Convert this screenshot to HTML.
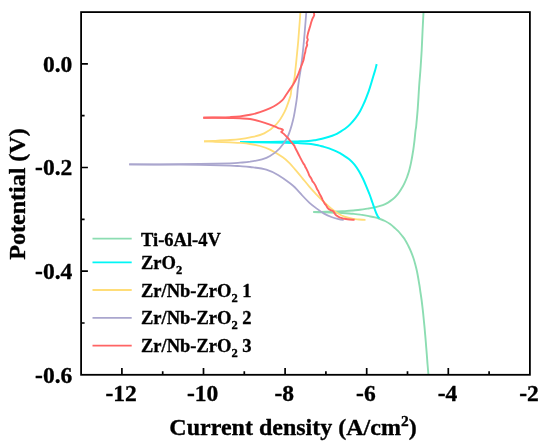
<!DOCTYPE html>
<html><head><meta charset="utf-8"><title>Potentiodynamic polarization curves</title>
<style>
html,body{margin:0;padding:0;background:#fff;}
body{width:550px;height:447px;overflow:hidden;}
svg{display:block;}
svg text{font-family:"Liberation Serif","Times New Roman",serif;font-weight:bold;fill:#000;stroke:#000;stroke-width:0.35px;stroke-linejoin:round;}
.tk{font-size:23.5px;}
.lg{font-size:18.5px;}
.ti{font-size:24px;}
</style></head><body>
<svg width="550" height="447" viewBox="0 0 550 447">
<rect x="0" y="0" width="550" height="447" fill="#ffffff"/>
<g fill="none" stroke-linecap="butt" stroke-linejoin="round">
<path d="M423.5 12.3 C423.4 15.2 422.9 23.7 422.6 30.0 C422.3 36.3 422.0 44.0 421.7 50.0 C421.4 56.0 421.0 61.0 420.7 66.0 C420.4 71.0 420.0 75.4 419.6 80.2 C419.2 85.0 418.9 90.0 418.6 95.0 C418.3 100.0 418.0 105.2 417.6 110.4 C417.2 115.6 416.5 122.7 416.2 126.0 C415.9 129.3 415.9 127.7 415.6 130.0 C415.3 132.3 414.9 136.9 414.6 139.6 C414.3 142.3 414.1 143.7 413.8 146.1 C413.5 148.5 413.1 151.3 412.6 154.0 C412.2 156.7 411.6 159.8 411.1 162.4 C410.6 165.0 410.0 167.4 409.4 169.8 C408.8 172.2 408.0 174.4 407.2 176.7 C406.4 178.9 405.4 181.2 404.4 183.3 C403.4 185.4 402.3 187.4 401.1 189.3 C399.9 191.2 398.8 193.0 397.4 194.6 C396.0 196.2 394.6 197.8 393.0 199.1 C391.4 200.4 389.7 201.6 388.0 202.6 C386.3 203.6 384.7 204.5 382.8 205.2 C380.9 205.9 378.6 206.4 376.8 206.9 C375.0 207.4 373.5 207.6 372.0 207.9 C370.5 208.2 369.7 208.3 367.7 208.6 C365.7 208.9 362.4 209.4 360.0 209.7 C357.6 210.0 355.7 210.3 353.2 210.5 C350.7 210.7 347.5 210.9 345.0 211.1 C342.5 211.2 341.2 211.3 338.0 211.4 C334.8 211.5 330.1 211.7 326.0 211.8 C321.9 211.9 315.5 212.0 313.4 212.0" stroke="#8CDDB2" stroke-width="1.9"/>
<path d="M313.4 212.0 C315.5 212.1 321.8 212.2 326.0 212.3 C330.2 212.4 334.1 212.6 338.6 212.8 C343.1 213.1 349.6 213.5 353.2 213.8 C356.8 214.1 358.1 214.2 360.5 214.6 C362.9 214.9 365.3 215.4 367.7 215.9 C370.1 216.4 372.9 216.9 375.0 217.4 C377.1 217.9 378.4 218.4 380.1 219.0 C381.8 219.6 383.3 220.2 385.0 221.0 C386.7 221.8 388.6 223.0 390.1 224.1 C391.6 225.2 392.9 226.3 394.2 227.5 C395.5 228.7 396.9 229.9 398.2 231.2 C399.5 232.5 400.6 234.0 401.8 235.5 C403.0 237.0 404.2 238.4 405.3 240.2 C406.4 241.9 407.4 244.0 408.4 246.0 C409.4 248.0 410.5 250.3 411.3 252.3 C412.1 254.3 412.7 256.0 413.4 258.0 C414.1 260.0 414.7 262.2 415.3 264.4 C415.9 266.6 416.4 268.6 416.9 271.0 C417.4 273.4 417.9 276.2 418.3 278.5 C418.7 280.8 419.0 282.8 419.4 285.0 C419.8 287.2 420.0 289.5 420.4 292.0 C420.8 294.5 421.2 297.0 421.6 300.0 C422.0 303.0 422.4 306.8 422.8 310.1 C423.2 313.4 423.5 316.6 423.8 320.0 C424.1 323.4 424.5 326.6 424.8 330.3 C425.1 334.0 425.5 338.0 425.8 342.0 C426.1 346.0 426.5 350.7 426.8 354.5 C427.1 358.3 427.3 361.6 427.6 365.0 C427.9 368.4 428.3 373.0 428.4 374.6" stroke="#8CDDB2" stroke-width="1.9"/>
<path d="M376.7 64.1 C376.4 65.1 375.8 68.0 375.2 70.0 C374.6 72.0 374.0 73.9 373.3 76.2 C372.6 78.5 371.8 81.3 371.0 84.0 C370.2 86.7 369.4 89.3 368.3 92.3 C367.2 95.3 365.9 98.9 364.5 102.0 C363.1 105.1 361.7 108.3 360.2 111.0 C358.7 113.7 357.2 116.0 355.5 118.2 C353.8 120.4 351.9 122.6 350.1 124.4 C348.4 126.2 346.7 127.6 345.0 128.8 C343.3 130.0 341.8 130.8 340.1 131.8 C338.4 132.8 336.8 133.8 335.0 134.6 C333.2 135.4 331.3 136.1 329.1 136.8 C326.9 137.5 324.4 138.2 322.0 138.8 C319.6 139.4 316.8 139.8 314.5 140.2 C312.2 140.5 310.7 140.7 308.3 140.9 C305.9 141.1 303.0 141.2 300.0 141.3 C297.0 141.4 295.4 141.5 290.4 141.6 C285.4 141.7 278.4 141.8 270.0 141.9 C261.6 142.0 245.1 142.1 240.1 142.1" stroke="#00F6F6" stroke-width="2.0"/>
<path d="M240.1 142.1 C245.1 142.2 261.6 142.4 270.0 142.5 C278.4 142.6 285.4 142.8 290.4 142.9 C295.4 143.0 297.0 143.1 300.0 143.2 C303.0 143.3 306.0 143.5 308.3 143.7 C310.6 143.9 312.4 144.2 314.0 144.5 C315.6 144.8 316.3 144.9 318.0 145.3 C319.7 145.7 322.1 146.4 324.0 146.9 C325.9 147.4 327.0 147.7 329.1 148.4 C331.2 149.2 334.6 150.6 336.4 151.4 C338.2 152.2 338.8 152.5 340.0 153.2 C341.2 153.9 342.0 154.4 343.6 155.4 C345.2 156.4 347.7 157.9 349.5 159.4 C351.3 160.9 352.9 162.6 354.5 164.6 C356.1 166.6 357.6 168.8 359.0 171.2 C360.4 173.6 361.7 176.1 363.0 178.8 C364.3 181.5 365.5 184.5 366.6 187.2 C367.7 189.9 368.8 192.4 369.8 195.0 C370.8 197.6 371.6 200.2 372.4 202.5 C373.2 204.8 373.9 206.7 374.5 208.5 C375.1 210.3 375.7 211.9 376.2 213.2 C376.7 214.5 377.2 215.3 377.7 216.2 C378.2 217.1 379.1 218.0 379.4 218.4" stroke="#00F6F6" stroke-width="2.0"/>
<path d="M300.4 12.3 C300.2 14.6 299.8 21.3 299.4 26.0 C299.0 30.7 298.7 35.3 298.3 40.3 C297.9 45.3 297.3 51.0 296.8 56.0 C296.3 61.0 295.8 66.5 295.3 70.5 C294.9 74.5 294.8 76.8 294.1 80.0 C293.4 83.2 291.9 87.3 291.3 90.0 C290.7 92.7 291.5 92.4 290.4 96.1 C289.2 99.8 286.8 107.5 284.4 112.2 C282.0 116.9 279.7 120.8 276.3 124.3 C272.9 127.8 268.6 131.2 264.2 133.4 C259.8 135.6 254.1 136.5 250.1 137.4 C246.1 138.3 243.3 138.7 240.0 139.1 C236.7 139.5 234.2 139.7 230.0 140.0 C225.8 140.3 219.3 140.6 215.0 140.8 C210.7 141.0 205.8 141.2 204.0 141.3" stroke="#FFDD78" stroke-width="1.8"/>
<path d="M204.0 141.3 C205.8 141.4 210.7 141.6 215.0 141.8 C219.3 142.0 225.8 142.2 230.0 142.4 C234.2 142.6 236.7 142.6 240.0 142.9 C243.3 143.2 246.8 143.5 250.1 144.0 C253.4 144.5 256.7 145.1 260.0 146.0 C263.3 146.9 266.2 147.7 270.0 149.6 C273.8 151.5 279.5 155.0 282.8 157.3 C286.1 159.6 288.0 161.6 290.0 163.6 C292.0 165.6 292.9 167.0 295.0 169.4 C297.1 171.8 299.9 175.2 302.3 178.1 C304.7 181.0 307.1 184.0 309.5 186.8 C311.9 189.6 314.4 192.2 316.8 194.8 C319.2 197.4 321.7 199.8 324.1 202.1 C326.5 204.4 329.0 206.7 331.4 208.6 C333.8 210.5 336.4 212.4 338.6 213.7 C340.8 215.0 342.1 215.7 344.5 216.6 C346.9 217.5 350.8 218.4 353.2 218.9 C355.6 219.4 356.9 219.3 359.0 219.5 C361.1 219.7 364.4 219.8 365.5 219.8" stroke="#FFDD78" stroke-width="1.8"/>
<path d="M306.3 12.3 C306.1 14.6 305.6 21.3 305.2 26.0 C304.8 30.7 304.5 35.3 304.0 40.3 C303.5 45.3 303.0 51.0 302.4 56.0 C301.8 61.0 301.1 66.5 300.5 70.5 C299.9 74.5 299.4 77.0 299.0 80.0 C298.6 83.0 298.2 85.2 297.8 88.6 C297.4 91.9 297.4 94.8 296.6 100.1 C295.8 105.4 294.5 114.2 293.0 120.3 C291.5 126.3 290.0 131.7 287.8 136.4 C285.6 141.1 282.6 145.2 279.6 148.5 C276.6 151.8 272.9 154.3 270.0 156.1 C267.1 157.9 265.3 158.5 262.0 159.4 C258.7 160.3 253.8 161.1 250.1 161.7 C246.4 162.2 243.3 162.4 240.0 162.7 C236.7 163.0 236.7 163.2 230.0 163.4 C223.3 163.6 211.7 163.8 200.0 164.0 C188.3 164.2 171.8 164.2 160.0 164.3 C148.2 164.4 134.3 164.4 129.2 164.4" stroke="#AAA6CE" stroke-width="1.8"/>
<path d="M129.2 164.4 C134.3 164.4 148.2 164.5 160.0 164.6 C171.8 164.7 188.3 164.7 200.0 164.9 C211.7 165.1 223.3 165.4 230.0 165.6 C236.7 165.8 236.7 166.0 240.0 166.2 C243.3 166.4 245.7 166.4 250.1 167.0 C254.5 167.6 261.7 168.3 266.3 169.6 C270.9 170.9 274.1 172.7 278.0 175.0 C281.9 177.3 287.2 181.1 290.0 183.2 C292.8 185.3 292.9 185.4 295.0 187.5 C297.1 189.6 299.9 192.9 302.3 195.5 C304.7 198.1 307.1 200.6 309.5 202.8 C311.9 205.0 314.4 206.8 316.8 208.6 C319.2 210.4 321.7 212.2 324.1 213.6 C326.5 215.0 329.0 216.1 331.4 217.0 C333.8 217.9 336.6 218.6 338.6 219.1 C340.7 219.6 342.9 219.8 343.7 219.9" stroke="#AAA6CE" stroke-width="1.8"/>
<path d="M313.7 12.3 C313.8 12.8 314.4 14.1 314.2 15.1 C314.0 16.1 313.1 17.3 312.6 18.4 C312.1 19.5 311.9 20.3 311.4 21.8 C310.9 23.3 310.4 25.5 309.8 27.4 C309.2 29.3 308.5 31.3 308.1 33.0 C307.7 34.7 307.2 36.4 307.2 37.5 C307.1 38.6 307.9 38.8 307.8 39.7 C307.7 40.6 306.8 42.2 306.7 43.1 C306.6 44.0 307.3 43.9 307.2 44.8 C307.1 45.7 306.1 47.5 305.8 48.7 C305.5 49.9 305.5 51.0 305.3 52.0 C305.1 53.0 304.8 53.4 304.5 54.8 C304.2 56.2 304.1 58.2 303.4 60.4 C302.7 62.6 301.5 65.3 300.5 68.0 C299.5 70.7 298.5 73.8 297.3 76.5 C296.1 79.2 294.7 82.0 293.5 84.0 C292.3 86.0 291.6 86.8 290.3 88.6 C289.1 90.4 287.3 93.1 286.0 95.0 C284.7 96.9 284.0 98.5 282.4 100.1 C280.8 101.7 278.5 103.4 276.5 104.8 C274.5 106.2 273.1 107.0 270.3 108.2 C267.6 109.4 263.4 111.1 260.0 112.2 C256.6 113.3 253.4 114.1 250.1 114.8 C246.8 115.5 243.3 116.0 240.0 116.4 C236.7 116.8 234.2 116.9 230.0 117.1 C225.8 117.3 219.4 117.4 215.0 117.5 C210.6 117.6 205.2 117.7 203.3 117.7" stroke="#FF6464" stroke-width="1.9"/>
<path d="M203.3 117.7 C205.2 117.7 210.6 117.8 215.0 117.8 C219.4 117.8 225.8 117.9 230.0 118.0 C234.2 118.1 236.7 118.1 240.0 118.3 C243.3 118.5 246.8 118.5 250.1 119.0 C253.4 119.5 256.7 120.4 260.0 121.3 C263.3 122.2 267.1 123.5 270.0 124.6 C272.9 125.7 275.6 127.0 277.7 127.8 C279.8 128.6 281.8 129.0 282.6 129.5 C283.4 130.0 282.6 130.4 282.4 130.8 C282.2 131.2 281.0 131.5 281.2 132.0 C281.4 132.5 282.7 132.9 283.8 133.9 C284.9 134.9 286.7 136.7 287.9 138.0 C289.1 139.3 289.9 140.5 291.0 141.8 C292.1 143.1 293.6 144.7 294.2 145.6 C294.8 146.5 294.4 146.0 294.9 147.1 C295.4 148.2 296.5 150.3 297.4 152.0 C298.2 153.7 299.2 155.6 300.0 157.1 C300.8 158.6 301.3 159.8 301.9 160.9 C302.5 162.0 303.0 162.8 303.4 163.5 C303.8 164.2 304.1 164.3 304.5 165.0 C304.9 165.7 305.3 166.9 305.6 167.5 C305.9 168.1 305.9 167.8 306.3 168.6 C306.7 169.4 307.6 171.2 308.1 172.3 C308.6 173.4 308.7 174.4 309.2 175.4 C309.7 176.4 310.4 177.1 311.0 178.1 C311.6 179.1 312.2 180.8 312.6 181.5 C313.0 182.2 312.9 181.7 313.4 182.3 C313.9 183.0 314.8 184.2 315.4 185.4 C316.0 186.6 316.8 188.7 317.3 189.6 C317.8 190.5 317.8 190.1 318.2 190.8 C318.6 191.6 319.2 193.1 319.7 194.1 C320.2 195.1 320.8 196.0 321.3 197.0 C321.8 198.0 322.1 198.8 322.6 199.9 C323.2 201.0 324.0 202.4 324.6 203.4 C325.2 204.4 325.8 204.9 326.3 205.7 C326.8 206.4 327.1 207.3 327.6 207.9 C328.1 208.5 328.6 209.0 329.2 209.4 C329.8 209.8 330.6 210.0 331.3 210.3 C332.0 210.7 332.9 210.9 333.5 211.5 C334.1 212.1 334.5 213.3 335.0 214.0 C335.5 214.7 336.0 215.2 336.5 215.6 C337.0 216.0 337.6 216.2 338.2 216.6 C338.8 216.9 339.2 217.4 340.1 217.7 C341.0 218.0 342.3 218.3 343.5 218.6 C344.7 218.8 345.5 219.0 347.4 219.2 C349.2 219.4 353.4 219.7 354.6 219.8" stroke="#FF6464" stroke-width="1.9"/>
</g>
<rect x="81.1" y="12.1" width="448.8" height="362.7" fill="none" stroke="#000" stroke-width="1.8"/>
<path d="M121.9 374.8V368.0M162.7 374.8V371.3M203.5 374.8V368.0M244.3 374.8V371.3M285.1 374.8V368.0M325.9 374.8V371.3M366.7 374.8V368.0M407.5 374.8V371.3M448.3 374.8V368.0M489.1 374.8V371.3M81.1 63.9H87.9M81.1 115.7H84.6M81.1 167.5H87.9M81.1 219.4H84.6M81.1 271.2H87.9M81.1 323.0H84.6" stroke="#000" stroke-width="1.7" fill="none"/>
<text class="tk" x="121.1" y="401.4" text-anchor="middle">-12</text>
<text class="tk" x="202.7" y="401.4" text-anchor="middle">-10</text>
<text class="tk" x="284.3" y="401.4" text-anchor="middle">-8</text>
<text class="tk" x="365.9" y="401.4" text-anchor="middle">-6</text>
<text class="tk" x="447.5" y="401.4" text-anchor="middle">-4</text>
<text class="tk" x="529.1" y="401.4" text-anchor="middle">-2</text>
<text class="tk" x="72.3" y="71.6" text-anchor="end">0.0</text>
<text class="tk" x="72.3" y="175.2" text-anchor="end">-0.2</text>
<text class="tk" x="72.3" y="278.9" text-anchor="end">-0.4</text>
<text class="tk" x="72.3" y="382.5" text-anchor="end">-0.6</text>
<text class="ti" x="293" y="434.5" text-anchor="middle">Current density (A/cm<tspan font-size="15.5px" dy="-9">2</tspan><tspan dy="9">)</tspan></text>
<text class="ti" transform="translate(25.4,194) rotate(-90)" text-anchor="middle">Potential (V)</text>
<line x1="92.5" x2="131.7" y1="238.7" y2="238.7" stroke="#8CDDB2" stroke-width="1.8"/>
<text class="lg" x="141" y="245.5">Ti-6Al-4V</text>
<line x1="92.5" x2="131.7" y1="262.4" y2="262.4" stroke="#00F6F6" stroke-width="1.8"/>
<text class="lg" x="141" y="268.7">ZrO<tspan font-size="12.5px" dy="5">2</tspan></text>
<line x1="92.5" x2="131.7" y1="290.0" y2="290.0" stroke="#FFDD78" stroke-width="1.8"/>
<text class="lg" x="141" y="296.9">Zr/Nb-ZrO<tspan font-size="12.5px" dy="5">2</tspan><tspan dy="-5"> 1</tspan></text>
<line x1="92.5" x2="131.7" y1="317.9" y2="317.9" stroke="#AAA6CE" stroke-width="1.8"/>
<text class="lg" x="141" y="324.4">Zr/Nb-ZrO<tspan font-size="12.5px" dy="5">2</tspan><tspan dy="-5"> 2</tspan></text>
<line x1="92.5" x2="131.7" y1="345.6" y2="345.6" stroke="#FF6464" stroke-width="1.8"/>
<text class="lg" x="141" y="351.8">Zr/Nb-ZrO<tspan font-size="12.5px" dy="5">2</tspan><tspan dy="-5"> 3</tspan></text>
</svg>
</body></html>
